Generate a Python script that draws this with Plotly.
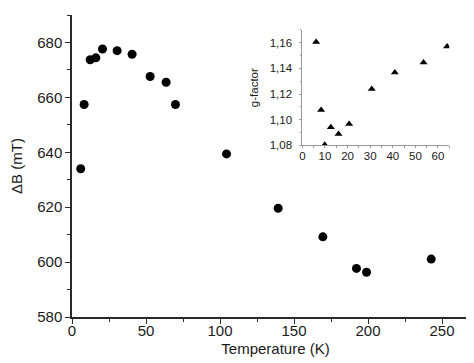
import plotly.graph_objects as go

# Main data: linewidth vs temperature
temp_main = [5.9, 8.2, 12.3, 16.1, 20.6, 30.5, 40.6, 52.8, 63.6, 69.9, 104.4, 139.3, 169.5, 192.2, 199.0, 242.7]
delta_b = [634.0, 657.4, 673.7, 674.4, 677.6, 677.0, 675.7, 667.6, 665.5, 657.4, 639.4, 619.6, 609.2, 597.7, 596.3, 601.1]

# Inset data: g-factor vs temperature
temp_inset = [6.1, 8.3, 9.9, 12.6, 16.0, 20.7, 30.7, 40.9, 53.6, 64.0]
g_factor = [1.1605, 1.1076, 1.0805, 1.0942, 1.0890, 1.0968, 1.1240, 1.1368, 1.1445, 1.1570]

main_yticks = [580, 600, 620, 640, 660, 680]
main_xticks = [0, 50, 100, 150, 200, 250]
inset_yticks = [1.08, 1.10, 1.12, 1.14, 1.16]
inset_xticks = [0, 10, 20, 30, 40, 50, 60]

FONT = "Liberation Sans, Arial, sans-serif"
AX = "#2a2a2a"
IAX = "#999999"

fig = go.Figure()
fig.add_trace(go.Scatter(x=temp_main, y=delta_b, mode="markers",
                         marker=dict(symbol="circle", size=9, color="black"),
                         showlegend=False))
fig.add_trace(go.Scatter(x=temp_inset, y=g_factor, mode="markers", xaxis="x2", yaxis="y2",
                         marker=dict(symbol="triangle-up", size=7, color="black"),
                         showlegend=False))

fig.update_layout(
    width=474, height=363,
    margin=dict(l=64, r=3, t=7, b=54),
    paper_bgcolor="white", plot_bgcolor="white",
    separators=",.",
    font=dict(family=FONT, size=15, color="#1a1a1a"),
    xaxis=dict(range=[0, 275], tickvals=main_xticks, showgrid=False, zeroline=False,
               showline=True, linecolor=AX, linewidth=1.5, ticks="outside", ticklen=5,
               tickcolor=AX, tickwidth=1.2,
               minor=dict(dtick=25, ticks="outside", ticklen=3, tickcolor=AX),
               ticklabelstandoff=-6,
               title=dict(text="Temperature (K)", standoff=6, font=dict(size=15))),
    yaxis=dict(range=[580, 690], tickvals=main_yticks, showgrid=False, zeroline=False,
               showline=True, linecolor=AX, linewidth=1.5, ticks="outside", ticklen=5,
               tickcolor=AX, tickwidth=1.2,
               minor=dict(dtick=10, ticks="outside", ticklen=3, tickcolor=AX),
               title=dict(text="ΔB (mT)", standoff=14, font=dict(size=15))),
    xaxis2=dict(domain=[0.566, 0.927], anchor="y2", range=[0, 65], tickvals=inset_xticks,
                showgrid=False, zeroline=False, showline=True, linecolor=IAX, linewidth=1,
                ticks="outside", ticklen=2, tickcolor=IAX,
                minor=dict(dtick=5, ticks="outside", ticklen=1.5, tickcolor=IAX),
                tickfont=dict(size=11.5), ticklabelstandoff=-2),
    yaxis2=dict(domain=[0.568, 0.951], anchor="x2", range=[1.08, 1.17], tickvals=inset_yticks,
                tickformat=".2f", showgrid=False, zeroline=False, showline=True,
                linecolor=IAX, linewidth=1, ticks="outside", ticklen=2, tickcolor=IAX,
                minor=dict(dtick=0.01, ticks="outside", ticklen=1.5, tickcolor=IAX),
                tickfont=dict(size=11.5), ticklabelstandoff=5,
                title=dict(text="g-factor", standoff=8, font=dict(size=11.5))),
)

fig.write_html("out.html")
